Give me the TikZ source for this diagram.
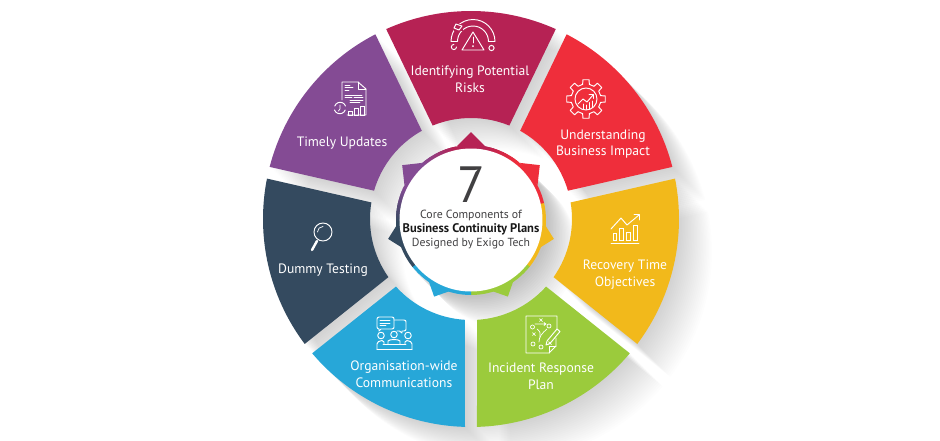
\documentclass[tikz,border=0pt]{standalone}
\usepackage{fontspec}
\setmainfont{PT Sans}
\definecolor{ccrim}{HTML}{B62254}
\definecolor{cred}{HTML}{EF2E3B}
\definecolor{cyel}{HTML}{F2B91B}
\definecolor{cgrn}{HTML}{9BCB3C}
\definecolor{cblu}{HTML}{27A7D8}
\definecolor{cdrk}{HTML}{344A5F}
\definecolor{cpur}{HTML}{844B94}
\definecolor{ctxt}{HTML}{414042}
\tikzset{
  lbl/.style={text=white,align=center,font=\fontsize{13.6}{16.8}\selectfont,inner sep=0pt},
  ctr/.style={text=ctxt,inner sep=0pt,font=\fontsize{11.8}{14}\selectfont},
  px/.style={shift={(-471,219)},yscale=-1},
  ico/.style={draw=white,line width=0.95pt,line join=round,line cap=round,fill=none},
  icofine/.style={draw=white,line width=0.7pt,line cap=round,fill=none}
}
\newcommand{\secpath}[1]{%
  (#1-24.06:208) arc[start angle=#1-24.06,end angle=#1+24.06,radius=208]
  -- (#1+22.3:101) arc[start angle=#1+22.3,end angle=#1-22.3,radius=101] -- cycle}
\begin{document}
\begin{tikzpicture}[x=1pt,y=1pt]
\useasboundingbox (-471,-221) rectangle (469,219);
\fill[white] (-471,-221) rectangle (469,219);
% shadows of the sectors
\foreach \b in {90,38.571,-12.857,-64.286,-115.714,-167.143,141.429}{
  \foreach \i in {1.5,3,...,33}{
    \fill[black,opacity=0.008,shift={(\i,-\i)}] \secpath{\b};
  }
}
% shadow of the gear
\begin{scope}[shift={(0,-1)}]
\foreach \i in {1.5,3,...,30}{
  \fill[black,opacity=0.010,shift={(\i,-\i)}] (0,0) circle[radius=76];
}
\end{scope}
% sectors
\foreach \b/\c in {90/ccrim,38.571/cred,-12.857/cyel,-64.286/cgrn,-115.714/cblu,-167.143/cdrk,141.429/cpur}{
  \fill[\c] \secpath{\b};
}
% gear
\begin{scope}[shift={(0,-1)}]
\foreach \b/\c/\r in {90/ccrim/88,38.571/cred/88,-12.857/cyel/85,-64.286/cgrn/85,-115.714/cblu/85,-167.143/cdrk/85,141.429/cpur/88}{
  \fill[\c] (\b:\r) -- +(\b+135:20) -- +(\b-135:20) -- cycle;
  \fill[\c] (0,0) -- (\b-25.9:75) arc[start angle=\b-25.9,end angle=\b+25.9,radius=75] -- cycle;
}
% colour blends on the ring
\foreach \m/\ca/\cb in {115.714/ccrim/cpur,64.286/cred/ccrim,167.143/cpur/cdrk}{
  \foreach \t in {0,1,...,14}{
    \pgfmathsetmacro{\aa}{\m-14+2*\t}
    \pgfmathsetmacro{\ab}{\aa+2.4}
    \pgfmathsetmacro{\p}{100-\t*100/14}
    \fill[\ca!\p!\cb] (0,0) -- (\aa:75) arc[start angle=\aa,end angle=\ab,radius=75] -- cycle;
  }
}
\fill[white] (0,0) circle[radius=71.5];
\end{scope}
% texts
\begin{scope}[px]
\node[lbl] (t1) at (470,79.5) {Identifying Potential\\Risks};
\node[lbl] (t2) at (603,144) {Understanding\\Business Impact};
\node[lbl] (t3) at (625,274.5) {Recovery Time\\Objectives};
\node[lbl] (t4) at (541,376.5) {Incident Response\\Plan};
\node[lbl] (t5) at (404,374.5) {Organisation-wide\\Communications};
\node[lbl] (t6) at (323,270.5) {Dummy Testing};
\node[lbl] (t7) at (342,143) {Timely Updates};
\node[ctr,font=\fontsize{51}{51}\selectfont] (seven) at (471,185) {7};
\node[ctr] (c1) at (471,215) {Core Components of};
\node[ctr,font=\fontsize{12.5}{14}\selectfont\bfseries,text=black!90] (c2) at (471,229) {Business Continuity Plans};
\node[ctr,font=\fontsize{11.7}{14}\selectfont] (c3) at (471,244) {Designed by Exigo Tech};

% --- icon: gauge
\draw[ico] (451,41.5) arc[start angle=180,end angle=360,radius=22] -- (488.5,41.5) arc[start angle=0,end angle=-180,radius=15.5] -- cycle;
\fill[ccrim] (454,24) rectangle (463,31);
\draw[ico] (456,24) -- (454,28) -- (459,30) -- (462,26) -- cycle;
\draw[ico] (456.5,47) arc[start angle=0,end angle=270,radius=2.6];
\draw[ico] (491.5,48) circle[radius=2.6];
\draw[ico] (473,32) -- (484,50) -- (462,50) -- cycle;
\draw[ico] (473,37) -- (473,43);
\fill[white] (473,46) circle[radius=1];

% --- icon: gear
\begin{scope}[shift={(586,99)}]
\foreach \k in {0,45,...,315}{
  \draw[ico] (\k-13:15) -- (\k-9:19.5) -- (\k+9:19.5) -- (\k+13:15) arc[start angle=\k+13,end angle=\k+32,radius=15];
}
\draw[ico] (0,0) circle[radius=11];
\draw[ico] (-8,5) -- (-3,0) -- (1,3) -- (7,-4);
\draw[ico] (3,-4.8) -- (7.5,-4.8) -- (7.5,-0.5);
\draw[icofine] (-3,10) -- (-3,5) (0,10.5) -- (0,6) (3,10) -- (3,3.5) (6,8.5) -- (6,2);
\end{scope}

% --- icon: rising chart
\draw[ico] (611,229) -- (621,218) -- (627,225) -- (639,215);
\draw[ico] (634,214) -- (639.5,214) -- (639.5,220);
\draw[ico] (611,243) -- (639,243);
\draw[icofine] (613,240.5) rectangle (616.5,233.5);
\draw[icofine] (619.5,240.5) rectangle (623,228.5);
\draw[icofine] (626.5,240.5) rectangle (630,232);
\draw[icofine] (633.5,240.5) rectangle (637,225.5);

% --- icon: plan sheet
\draw[ico] (557,329) -- (557,316) -- (526,316) -- (526,353) -- (549,353) -- (556,346) -- (556,338);
\draw[ico] (549,353) -- (549,346) -- (556,346);
\draw[icofine] (532.5,327) circle[radius=2] (549,326) circle[radius=2] (533,344) circle[radius=2] (541,347) circle[radius=2];
\draw[icofine] (539.5,318.5) -- (542.5,321.5) (542.5,318.5) -- (539.5,321.5);
\draw[icofine] (532.5,332.5) -- (535.5,335.5) (535.5,332.5) -- (532.5,335.5);
\draw[icofine] (548.5,341.5) -- (551.5,344.5) (551.5,341.5) -- (548.5,344.5);
\draw[icofine] (535,324) -- (546,324) (544,322.5) -- (546,324) -- (544,325.5);
\draw[icofine] (547,329) .. controls (542,333) and (539,337) .. (539,342);
\draw[icofine] (537,329) .. controls (540,331) and (541,334) .. (540,337);
\draw[ico] (547,341) -- (557,329) -- (560,331.5) -- (550,343.5) -- (546,345) -- cycle;

% --- icon: meeting
\draw[ico] (379,317) -- (392,317) .. controls (393.5,317) and (394,318) .. (394,319) -- (394,327) .. controls (394,328) and (393.5,329) .. (392,329) -- (381,329) -- (379,331) -- (379,329) .. controls (378,329) and (377,328) .. (377,327) -- (377,319) .. controls (377,318) and (378,317) .. (379,317) -- cycle;
\draw[icofine] (380,320.5) -- (390,320.5) (380,323) -- (390,323) (380,325.5) -- (386,325.5);
\draw[ico] (394,320) -- (404,320) .. controls (405.5,320) and (406,321) .. (406,322) -- (406,329) .. controls (406,330) and (405.5,331) .. (404,331) -- (402,331) -- (402,333) -- (399.5,331) -- (397,331);
\draw[ico] (381,335.5) circle[radius=3.3] (394,334.5) circle[radius=3.3] (408,335.5) circle[radius=3.3];
\draw[ico] (377,349.5) -- (377,344) .. controls (377,342) and (379,341) .. (382,340.5) -- (384,342) -- (384,344);
\draw[ico] (388,344) -- (388,341) .. controls (389,340) and (391,339.5) .. (394,339.5) .. controls (397,339.5) and (399,340) .. (400,341) -- (400,344);
\draw[ico] (412,349.5) -- (412,344) .. controls (412,342) and (410,341) .. (407,340.5) -- (405,342) -- (405,344);
\draw[ico] (377,349.5) -- (412,349.5);
\draw[ico] (383,344) -- (406,344);

% --- icon: magnifier
\draw[ico] (323,232) circle[radius=9];
\draw[icofine] (317.5,232) arc[start angle=180,end angle=270,radius=5.5];
\draw[draw=white,line width=2.4pt,line cap=round] (317,241) -- (312,250);

% --- icon: document
\draw[ico] (342,100) -- (342,82) -- (358,82) -- (366,89) -- (366,115) -- (347,115);
\draw[ico] (358,82) -- (358,89) -- (366,89);
\draw[icofine] (345,85) -- (350,85) (345,87.5) -- (353,87.5) (345,90) -- (349,90)
  (345,95) -- (362,95) (345,97.5) -- (352,97.5) (354,97.5) -- (363,97.5)
  (350,100) -- (363,100) (350,102.5) -- (360,102.5);
\draw[ico] (345.5,106) arc[start angle=-20,end angle=-160,radius=5.7];
\draw[ico] (334.5,110) arc[start angle=160,end angle=20,radius=5.7];
\draw[icofine] (340,105) -- (340,109) -- (338.5,111);
\draw[icofine] (348.5,115) rectangle (352.5,111);
\draw[icofine] (354,115) rectangle (358,108);
\draw[icofine] (360,115) rectangle (364,106);
\end{scope}
\end{tikzpicture}
\end{document}
